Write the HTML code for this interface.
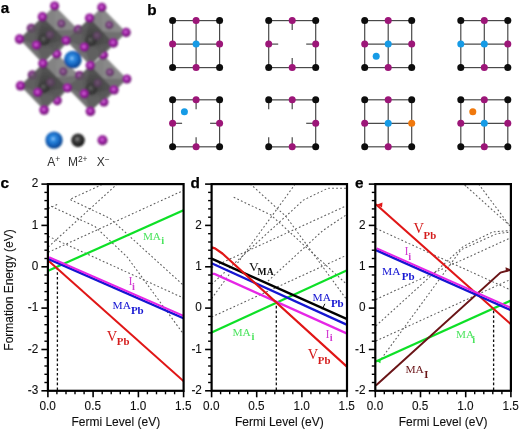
<!DOCTYPE html>
<html><head><meta charset="utf-8"><title>Figure</title>
<style>
html,body{margin:0;padding:0;background:#fff;}
body{width:520px;height:430px;overflow:hidden;}
svg{display:block;}
text{font-family:'Liberation Sans', Arial, sans-serif;}
.ser{font-family:'Liberation Serif', 'Times New Roman', serif;}
</style></head><body>
<svg width="520" height="430" viewBox="0 0 520 430">
<defs>
<radialGradient id="gP" cx="46%" cy="44%" r="60%"><stop offset="0" stop-color="#f2b4f2"/><stop offset="0.18" stop-color="#bc38c4"/><stop offset="0.6" stop-color="#8e1c94"/><stop offset="1" stop-color="#500c56"/></radialGradient>
<radialGradient id="gPb" cx="46%" cy="44%" r="60%"><stop offset="0" stop-color="#b890b8"/><stop offset="0.25" stop-color="#84488a"/><stop offset="1" stop-color="#553058"/></radialGradient>
<radialGradient id="gK" cx="45%" cy="42%" r="65%"><stop offset="0" stop-color="#c8c8c8"/><stop offset="0.15" stop-color="#555"/><stop offset="0.6" stop-color="#262626"/><stop offset="1" stop-color="#080808"/></radialGradient>
<radialGradient id="gB" cx="45%" cy="42%" r="65%"><stop offset="0" stop-color="#d0ecff"/><stop offset="0.14" stop-color="#3a98ea"/><stop offset="0.55" stop-color="#1565c0"/><stop offset="1" stop-color="#06306e"/></radialGradient>
<radialGradient id="gD"><stop offset="0" stop-color="#222" stop-opacity="0.7"/><stop offset="0.5" stop-color="#2a2a2a" stop-opacity="0.4"/><stop offset="1" stop-color="#333" stop-opacity="0"/></radialGradient>
<filter id="soft" x="-5%" y="-5%" width="110%" height="110%"><feGaussianBlur stdDeviation="0.45"/></filter>
<filter id="soft2" x="-5%" y="-5%" width="110%" height="110%"><feGaussianBlur stdDeviation="0.85"/></filter>
<clipPath id="cc"><rect x="47.9" y="184" width="135.7" height="206.8"/></clipPath>
<clipPath id="cd"><rect x="211.6" y="184" width="135.4" height="206.8"/></clipPath>
<clipPath id="ce"><rect x="375.3" y="184" width="135.6" height="206.8"/></clipPath>
</defs>
<rect width="520" height="430" fill="#fff"/>

<text x="0.8" y="12.6" font-size="15.3" font-weight="bold" fill="#000" stroke="#000" stroke-width="0.25">a</text>
<text x="147.2" y="15.3" font-size="15.3" font-weight="bold" fill="#000" stroke="#000" stroke-width="0.25">b</text>
<text x="0.5" y="187.9" font-size="15.3" font-weight="bold" fill="#000" stroke="#000" stroke-width="0.25">c</text>
<text x="190.5" y="187.9" font-size="15.3" font-weight="bold" fill="#000" stroke="#000" stroke-width="0.25">d</text>
<text x="355" y="187.9" font-size="15.3" font-weight="bold" fill="#000" stroke="#000" stroke-width="0.25">e</text>
<g filter="url(#soft2)">
<polygon points="54.6,6.1 31.3,28.3 56.7,54.0 78.2,29.7" fill="#7e7e7e" fill-opacity="0.96"/>
<polygon points="54.6,6.1 78.2,29.7 54.8,30.1" fill="#8a8a8a" fill-opacity="0.9"/>
<polygon points="78.2,29.7 56.7,54.0 54.8,30.1" fill="#6e6e6e" fill-opacity="0.9"/>
<polygon points="101.8,7.4 78.2,29.7 103.2,55.0 126.1,32.4" fill="#7e7e7e" fill-opacity="0.96"/>
<polygon points="101.8,7.4 126.1,32.4 102.2,31.2" fill="#8a8a8a" fill-opacity="0.9"/>
<polygon points="126.1,32.4 103.2,55.0 102.2,31.2" fill="#6e6e6e" fill-opacity="0.9"/>
<polygon points="56.7,54.0 32.3,75.0 57.2,100.6 79.6,75.6" fill="#7e7e7e" fill-opacity="0.96"/>
<polygon points="56.7,54.0 79.6,75.6 55.9,77.3" fill="#8a8a8a" fill-opacity="0.9"/>
<polygon points="79.6,75.6 57.2,100.6 55.9,77.3" fill="#6e6e6e" fill-opacity="0.9"/>
<polygon points="103.2,55.0 79.6,75.6 103.9,102.0 126.8,79.0" fill="#7e7e7e" fill-opacity="0.96"/>
<polygon points="103.2,55.0 126.8,79.0 103.2,78.5" fill="#8a8a8a" fill-opacity="0.9"/>
<polygon points="126.8,79.0 103.9,102.0 103.2,78.5" fill="#6e6e6e" fill-opacity="0.9"/>
<circle cx="61.4" cy="23.6" r="4.3" fill="url(#gPb)" opacity="0.95"/>
<circle cx="109.3" cy="25.0" r="4.3" fill="url(#gPb)" opacity="0.95"/>
<circle cx="63.3" cy="71.6" r="4.3" fill="url(#gPb)" opacity="0.95"/>
<circle cx="109.9" cy="72.3" r="4.3" fill="url(#gPb)" opacity="0.95"/>
<circle cx="54.6" cy="6.1" r="4.6" fill="url(#gP)" opacity="1"/>
<circle cx="31.3" cy="28.3" r="4.6" fill="url(#gP)" opacity="1"/>
<circle cx="56.7" cy="54.0" r="4.6" fill="url(#gP)" opacity="1"/>
<circle cx="78.2" cy="29.7" r="4.6" fill="url(#gP)" opacity="1"/>
<circle cx="101.8" cy="7.4" r="4.6" fill="url(#gP)" opacity="1"/>
<circle cx="78.2" cy="29.7" r="4.6" fill="url(#gP)" opacity="1"/>
<circle cx="103.2" cy="55.0" r="4.6" fill="url(#gP)" opacity="1"/>
<circle cx="126.1" cy="32.4" r="4.6" fill="url(#gP)" opacity="1"/>
<circle cx="56.7" cy="54.0" r="4.6" fill="url(#gP)" opacity="1"/>
<circle cx="32.3" cy="75.0" r="4.6" fill="url(#gP)" opacity="1"/>
<circle cx="57.2" cy="100.6" r="4.6" fill="url(#gP)" opacity="1"/>
<circle cx="79.6" cy="75.6" r="4.6" fill="url(#gP)" opacity="1"/>
<circle cx="103.2" cy="55.0" r="4.6" fill="url(#gP)" opacity="1"/>
<circle cx="79.6" cy="75.6" r="4.6" fill="url(#gP)" opacity="1"/>
<circle cx="103.9" cy="102.0" r="4.6" fill="url(#gP)" opacity="1"/>
<circle cx="126.8" cy="79.0" r="4.6" fill="url(#gP)" opacity="1"/>
<polygon points="42.5,16.9 19.6,39.1 43.0,63.5 66.1,40.5" fill="#565656" fill-opacity="0.9"/>
<polygon points="89.7,18.2 66.1,40.5 90.4,65.5 113.3,42.9" fill="#565656" fill-opacity="0.9"/>
<polygon points="43.0,63.5 20.5,85.8 44.1,110.0 67.4,87.8" fill="#565656" fill-opacity="0.9"/>
<polygon points="90.4,65.5 67.4,87.8 90.4,111.3 114.0,89.8" fill="#565656" fill-opacity="0.9"/>
<circle cx="31.3" cy="28.3" r="4.5" fill="url(#gPb)" opacity="0.75"/>
<circle cx="45.9" cy="36.8" r="13" fill="url(#gD)"/>
<circle cx="43.9" cy="39.8" r="5.8" fill="url(#gK)" opacity="1"/>
<circle cx="50.0" cy="34.8" r="4.3" fill="url(#gPb)" opacity="0.95"/>
<polygon points="42.5,16.9 19.6,39.1 36.4,45.2" fill="#5c5c5c" fill-opacity="0.5"/>
<polygon points="42.5,16.9 66.1,40.5 36.4,45.2" fill="#484848" fill-opacity="0.5"/>
<polygon points="19.6,39.1 43.0,63.5 36.4,45.2" fill="#7a7a7a" fill-opacity="0.55"/>
<polygon points="66.1,40.5 43.0,63.5 36.4,45.2" fill="#5a5a5a" fill-opacity="0.5"/>
<circle cx="78.2" cy="29.7" r="4.5" fill="url(#gPb)" opacity="0.75"/>
<circle cx="92.8" cy="37.5" r="13" fill="url(#gD)"/>
<circle cx="90.8" cy="40.5" r="5.8" fill="url(#gK)" opacity="1"/>
<circle cx="97.1" cy="35.8" r="4.3" fill="url(#gPb)" opacity="0.95"/>
<polygon points="89.7,18.2 66.1,40.5 84.3,47.2" fill="#5c5c5c" fill-opacity="0.5"/>
<polygon points="89.7,18.2 113.3,42.9 84.3,47.2" fill="#484848" fill-opacity="0.5"/>
<polygon points="66.1,40.5 90.4,65.5 84.3,47.2" fill="#7a7a7a" fill-opacity="0.55"/>
<polygon points="113.3,42.9 90.4,65.5 84.3,47.2" fill="#5a5a5a" fill-opacity="0.5"/>
<circle cx="32.3" cy="75.0" r="4.5" fill="url(#gPb)" opacity="0.75"/>
<circle cx="45.7" cy="84.5" r="13" fill="url(#gD)"/>
<circle cx="43.7" cy="87.5" r="5.8" fill="url(#gK)" opacity="1"/>
<circle cx="50.5" cy="82.4" r="4.3" fill="url(#gPb)" opacity="0.95"/>
<polygon points="43.0,63.5 20.5,85.8 37.7,92.5" fill="#5c5c5c" fill-opacity="0.5"/>
<polygon points="43.0,63.5 67.4,87.8 37.7,92.5" fill="#484848" fill-opacity="0.5"/>
<polygon points="20.5,85.8 44.1,110.0 37.7,92.5" fill="#7a7a7a" fill-opacity="0.55"/>
<polygon points="67.4,87.8 44.1,110.0 37.7,92.5" fill="#5a5a5a" fill-opacity="0.5"/>
<circle cx="79.6" cy="75.6" r="4.5" fill="url(#gPb)" opacity="0.75"/>
<circle cx="93.3" cy="86.1" r="13" fill="url(#gD)"/>
<circle cx="91.3" cy="89.1" r="5.8" fill="url(#gK)" opacity="1"/>
<circle cx="97.8" cy="83.1" r="4.3" fill="url(#gPb)" opacity="0.95"/>
<polygon points="90.4,65.5 67.4,87.8 84.3,93.9" fill="#5c5c5c" fill-opacity="0.5"/>
<polygon points="90.4,65.5 114.0,89.8 84.3,93.9" fill="#484848" fill-opacity="0.5"/>
<polygon points="67.4,87.8 90.4,111.3 84.3,93.9" fill="#7a7a7a" fill-opacity="0.55"/>
<polygon points="114.0,89.8 90.4,111.3 84.3,93.9" fill="#5a5a5a" fill-opacity="0.5"/>
<circle cx="72.8" cy="59.7" r="8.9" fill="url(#gB)" opacity="1"/>
<circle cx="42.5" cy="16.9" r="4.8" fill="url(#gP)" opacity="1"/>
<circle cx="19.6" cy="39.1" r="4.8" fill="url(#gP)" opacity="1"/>
<circle cx="43.0" cy="63.5" r="4.8" fill="url(#gP)" opacity="1"/>
<circle cx="66.1" cy="40.5" r="4.8" fill="url(#gP)" opacity="1"/>
<circle cx="36.4" cy="45.2" r="4.8" fill="url(#gP)" opacity="1"/>
<circle cx="89.7" cy="18.2" r="4.8" fill="url(#gP)" opacity="1"/>
<circle cx="90.4" cy="65.5" r="4.8" fill="url(#gP)" opacity="1"/>
<circle cx="113.3" cy="42.9" r="4.8" fill="url(#gP)" opacity="1"/>
<circle cx="84.3" cy="47.2" r="4.8" fill="url(#gP)" opacity="1"/>
<circle cx="20.5" cy="85.8" r="4.8" fill="url(#gP)" opacity="1"/>
<circle cx="44.1" cy="110.0" r="4.8" fill="url(#gP)" opacity="1"/>
<circle cx="67.4" cy="87.8" r="4.8" fill="url(#gP)" opacity="1"/>
<circle cx="37.7" cy="92.5" r="4.8" fill="url(#gP)" opacity="1"/>
<circle cx="90.4" cy="111.3" r="4.8" fill="url(#gP)" opacity="1"/>
<circle cx="114.0" cy="89.8" r="4.8" fill="url(#gP)" opacity="1"/>
<circle cx="84.3" cy="93.9" r="4.8" fill="url(#gP)" opacity="1"/>
<circle cx="54.0" cy="140.2" r="8.6" fill="url(#gB)" opacity="1"/>
<circle cx="78.0" cy="140.2" r="6.7" fill="url(#gK)" opacity="1"/>
<circle cx="102.5" cy="140.2" r="5.0" fill="url(#gP)" opacity="1"/>
</g>
<text x="47.3" y="166" font-size="12" fill="#333">A<tspan font-size="8.5" dy="-4.5">+</tspan></text>
<text x="67.9" y="166" font-size="12" fill="#333">M<tspan font-size="8.5" dy="-4.5">2+</tspan></text>
<text x="96.7" y="166" font-size="12" fill="#333">X<tspan font-size="8.5" dy="-4.5">−</tspan></text>
<g filter="url(#soft)">
<rect x="172.6" y="20.6" width="47.0" height="47.0" fill="none" stroke="#4a4a4a" stroke-width="1.2"/>
<line x1="196.1" y1="20.6" x2="196.1" y2="67.6" stroke="#4a4a4a" stroke-width="1.2"/>
<line x1="172.6" y1="44.1" x2="219.6" y2="44.1" stroke="#4a4a4a" stroke-width="1.2"/>
<circle cx="172.6" cy="20.6" r="3.5" fill="#0c0c0c"/>
<circle cx="219.6" cy="20.6" r="3.5" fill="#0c0c0c"/>
<circle cx="172.6" cy="67.6" r="3.5" fill="#0c0c0c"/>
<circle cx="219.6" cy="67.6" r="3.5" fill="#0c0c0c"/>
<circle cx="196.1" cy="20.6" r="3.5" fill="#9c1478"/>
<circle cx="196.1" cy="67.6" r="3.5" fill="#9c1478"/>
<circle cx="172.6" cy="44.1" r="3.5" fill="#9c1478"/>
<circle cx="219.6" cy="44.1" r="3.5" fill="#9c1478"/>
<circle cx="196.1" cy="44.1" r="3.5" fill="#189be6"/>
<rect x="268.7" y="20.6" width="47.0" height="47.0" fill="none" stroke="#4a4a4a" stroke-width="1.2"/>
<line x1="292.2" y1="20.6" x2="292.2" y2="30.1" stroke="#4a4a4a" stroke-width="1.2"/>
<line x1="292.2" y1="67.6" x2="292.2" y2="58.1" stroke="#4a4a4a" stroke-width="1.2"/>
<line x1="268.7" y1="44.1" x2="278.2" y2="44.1" stroke="#4a4a4a" stroke-width="1.2"/>
<line x1="315.7" y1="44.1" x2="306.2" y2="44.1" stroke="#4a4a4a" stroke-width="1.2"/>
<circle cx="268.7" cy="20.6" r="3.5" fill="#0c0c0c"/>
<circle cx="315.7" cy="20.6" r="3.5" fill="#0c0c0c"/>
<circle cx="268.7" cy="67.6" r="3.5" fill="#0c0c0c"/>
<circle cx="315.7" cy="67.6" r="3.5" fill="#0c0c0c"/>
<circle cx="292.2" cy="20.6" r="3.5" fill="#9c1478"/>
<circle cx="292.2" cy="67.6" r="3.5" fill="#9c1478"/>
<circle cx="268.7" cy="44.1" r="3.5" fill="#9c1478"/>
<circle cx="315.7" cy="44.1" r="3.5" fill="#9c1478"/>
<rect x="364.7" y="20.6" width="47.0" height="47.0" fill="none" stroke="#4a4a4a" stroke-width="1.2"/>
<line x1="388.2" y1="20.6" x2="388.2" y2="67.6" stroke="#4a4a4a" stroke-width="1.2"/>
<line x1="364.7" y1="44.1" x2="411.7" y2="44.1" stroke="#4a4a4a" stroke-width="1.2"/>
<circle cx="364.7" cy="20.6" r="3.5" fill="#0c0c0c"/>
<circle cx="411.7" cy="20.6" r="3.5" fill="#0c0c0c"/>
<circle cx="364.7" cy="67.6" r="3.5" fill="#0c0c0c"/>
<circle cx="411.7" cy="67.6" r="3.5" fill="#0c0c0c"/>
<circle cx="388.2" cy="20.6" r="3.5" fill="#9c1478"/>
<circle cx="388.2" cy="67.6" r="3.5" fill="#9c1478"/>
<circle cx="364.7" cy="44.1" r="3.5" fill="#9c1478"/>
<circle cx="411.7" cy="44.1" r="3.5" fill="#9c1478"/>
<circle cx="388.2" cy="44.1" r="3.5" fill="#189be6"/>
<circle cx="376.2" cy="56.2" r="3.5" fill="#189be6"/>
<rect x="460.8" y="20.6" width="47.0" height="47.0" fill="none" stroke="#4a4a4a" stroke-width="1.2"/>
<line x1="484.3" y1="20.6" x2="484.3" y2="67.6" stroke="#4a4a4a" stroke-width="1.2"/>
<line x1="460.8" y1="44.1" x2="507.8" y2="44.1" stroke="#4a4a4a" stroke-width="1.2"/>
<circle cx="460.8" cy="20.6" r="3.5" fill="#0c0c0c"/>
<circle cx="507.8" cy="20.6" r="3.5" fill="#0c0c0c"/>
<circle cx="460.8" cy="67.6" r="3.5" fill="#0c0c0c"/>
<circle cx="507.8" cy="67.6" r="3.5" fill="#0c0c0c"/>
<circle cx="484.3" cy="20.6" r="3.5" fill="#9c1478"/>
<circle cx="484.3" cy="67.6" r="3.5" fill="#9c1478"/>
<circle cx="460.8" cy="44.1" r="3.5" fill="#189be6"/>
<circle cx="507.8" cy="44.1" r="3.5" fill="#9c1478"/>
<circle cx="484.3" cy="44.1" r="3.5" fill="#189be6"/>
<rect x="172.6" y="99.8" width="47.0" height="47.0" fill="none" stroke="#4a4a4a" stroke-width="1.2"/>
<line x1="196.1" y1="99.8" x2="196.1" y2="109.3" stroke="#4a4a4a" stroke-width="1.2"/>
<line x1="196.1" y1="146.8" x2="196.1" y2="137.3" stroke="#4a4a4a" stroke-width="1.2"/>
<line x1="172.6" y1="123.3" x2="182.1" y2="123.3" stroke="#4a4a4a" stroke-width="1.2"/>
<line x1="219.6" y1="123.3" x2="210.1" y2="123.3" stroke="#4a4a4a" stroke-width="1.2"/>
<circle cx="172.6" cy="99.8" r="3.5" fill="#0c0c0c"/>
<circle cx="219.6" cy="99.8" r="3.5" fill="#0c0c0c"/>
<circle cx="172.6" cy="146.8" r="3.5" fill="#0c0c0c"/>
<circle cx="219.6" cy="146.8" r="3.5" fill="#0c0c0c"/>
<circle cx="196.1" cy="99.8" r="3.5" fill="#9c1478"/>
<circle cx="196.1" cy="146.8" r="3.5" fill="#9c1478"/>
<circle cx="172.6" cy="123.3" r="3.5" fill="#9c1478"/>
<circle cx="219.6" cy="123.3" r="3.5" fill="#9c1478"/>
<circle cx="184.4" cy="111.7" r="3.5" fill="#189be6"/>
<line x1="268.7" y1="99.8" x2="315.7" y2="99.8" stroke="#4a4a4a" stroke-width="1.2"/>
<line x1="315.7" y1="99.8" x2="315.7" y2="146.8" stroke="#4a4a4a" stroke-width="1.2"/>
<line x1="268.7" y1="146.8" x2="315.7" y2="146.8" stroke="#4a4a4a" stroke-width="1.2"/>
<line x1="268.7" y1="99.8" x2="268.7" y2="109.3" stroke="#4a4a4a" stroke-width="1.2"/>
<line x1="268.7" y1="146.8" x2="268.7" y2="137.3" stroke="#4a4a4a" stroke-width="1.2"/>
<line x1="292.2" y1="99.8" x2="292.2" y2="109.3" stroke="#4a4a4a" stroke-width="1.2"/>
<line x1="292.2" y1="146.8" x2="292.2" y2="137.3" stroke="#4a4a4a" stroke-width="1.2"/>
<line x1="315.7" y1="123.3" x2="306.2" y2="123.3" stroke="#4a4a4a" stroke-width="1.2"/>
<circle cx="268.7" cy="99.8" r="3.5" fill="#0c0c0c"/>
<circle cx="315.7" cy="99.8" r="3.5" fill="#0c0c0c"/>
<circle cx="268.7" cy="146.8" r="3.5" fill="#0c0c0c"/>
<circle cx="315.7" cy="146.8" r="3.5" fill="#0c0c0c"/>
<circle cx="292.2" cy="99.8" r="3.5" fill="#9c1478"/>
<circle cx="292.2" cy="146.8" r="3.5" fill="#9c1478"/>
<circle cx="315.7" cy="123.3" r="3.5" fill="#9c1478"/>
<rect x="364.7" y="99.8" width="47.0" height="47.0" fill="none" stroke="#4a4a4a" stroke-width="1.2"/>
<line x1="388.2" y1="99.8" x2="388.2" y2="146.8" stroke="#4a4a4a" stroke-width="1.2"/>
<line x1="364.7" y1="123.3" x2="411.7" y2="123.3" stroke="#4a4a4a" stroke-width="1.2"/>
<circle cx="364.7" cy="99.8" r="3.5" fill="#0c0c0c"/>
<circle cx="411.7" cy="99.8" r="3.5" fill="#0c0c0c"/>
<circle cx="364.7" cy="146.8" r="3.5" fill="#0c0c0c"/>
<circle cx="411.7" cy="146.8" r="3.5" fill="#0c0c0c"/>
<circle cx="388.2" cy="99.8" r="3.5" fill="#9c1478"/>
<circle cx="388.2" cy="146.8" r="3.5" fill="#9c1478"/>
<circle cx="364.7" cy="123.3" r="3.5" fill="#9c1478"/>
<circle cx="411.7" cy="123.3" r="3.5" fill="#f0780a"/>
<circle cx="388.2" cy="123.3" r="3.5" fill="#189be6"/>
<rect x="460.8" y="99.8" width="47.0" height="47.0" fill="none" stroke="#4a4a4a" stroke-width="1.2"/>
<line x1="484.3" y1="99.8" x2="484.3" y2="146.8" stroke="#4a4a4a" stroke-width="1.2"/>
<line x1="460.8" y1="123.3" x2="507.8" y2="123.3" stroke="#4a4a4a" stroke-width="1.2"/>
<circle cx="460.8" cy="99.8" r="3.5" fill="#0c0c0c"/>
<circle cx="507.8" cy="99.8" r="3.5" fill="#0c0c0c"/>
<circle cx="460.8" cy="146.8" r="3.5" fill="#0c0c0c"/>
<circle cx="507.8" cy="146.8" r="3.5" fill="#0c0c0c"/>
<circle cx="484.3" cy="99.8" r="3.5" fill="#9c1478"/>
<circle cx="484.3" cy="146.8" r="3.5" fill="#9c1478"/>
<circle cx="460.8" cy="123.3" r="3.5" fill="#9c1478"/>
<circle cx="507.8" cy="123.3" r="3.5" fill="#9c1478"/>
<circle cx="484.3" cy="123.3" r="3.5" fill="#189be6"/>
<circle cx="472.8" cy="111.8" r="3.5" fill="#f0780a"/>
</g>
<g filter="url(#soft)">
<polyline points="48.2,208.5 59.0,203.7" fill="none" stroke="#5e5e5e" stroke-width="1.05" stroke-dasharray="1.8 2.2" clip-path="url(#cc)" />
<polyline points="51.2,206.3 95.0,226.5 127.2,257.0 184.0,334.8" fill="none" stroke="#5e5e5e" stroke-width="1.05" stroke-dasharray="1.8 2.2" clip-path="url(#cc)" />
<polyline points="102.0,184.6 69.8,199.4 110.0,218.4 184.0,285.8" fill="none" stroke="#5e5e5e" stroke-width="1.05" stroke-dasharray="1.8 2.2" clip-path="url(#cc)" />
<polyline points="48.2,247.0 117.2,184.0" fill="none" stroke="#5e5e5e" stroke-width="1.05" stroke-dasharray="1.8 2.2" clip-path="url(#cc)" />
<polyline points="48.2,252.3 184.0,190.2" fill="none" stroke="#5e5e5e" stroke-width="1.05" stroke-dasharray="1.8 2.2" clip-path="url(#cc)" />
<polyline points="48.2,236.2 184.0,298.3" fill="none" stroke="#5e5e5e" stroke-width="1.05" stroke-dasharray="1.8 2.2" clip-path="url(#cc)" />
<polyline points="57.4,390.0 57.4,268.0" fill="none" stroke="#111" stroke-width="1.3" stroke-dasharray="2.6 2.2" />
<polyline points="48.2,270.7 184.0,210.0" fill="none" stroke="#10e028" stroke-width="2.2" clip-path="url(#cc)" />
<polyline points="48.2,260.4 184.0,381.5" fill="none" stroke="#e01414" stroke-width="2.0" clip-path="url(#cc)" />
<polyline points="48.2,258.8 184.0,318.5" fill="none" stroke="#1414d2" stroke-width="2.4" clip-path="url(#cc)" />
<polyline points="49.6,257.5 184.0,316.0" fill="none" stroke="#e628e6" stroke-width="2.0" clip-path="url(#cc)" stroke-linecap="round"/>
<rect x="47.9" y="184.1" width="135.7" height="206.7" fill="none" stroke="#000" stroke-width="2.2"/>
<line x1="41.4" y1="390.8" x2="47.9" y2="390.8" stroke="#000" stroke-width="1.6"/>
<text transform="translate(38.2,394.1) scale(0.9,1)" font-size="13.1" text-anchor="end" fill="#111" stroke="#111" stroke-width="0.12">-3</text>
<line x1="44.4" y1="382.5" x2="47.9" y2="382.5" stroke="#000" stroke-width="1.4"/>
<line x1="44.4" y1="374.3" x2="47.9" y2="374.3" stroke="#000" stroke-width="1.4"/>
<line x1="44.4" y1="366.0" x2="47.9" y2="366.0" stroke="#000" stroke-width="1.4"/>
<line x1="44.4" y1="357.7" x2="47.9" y2="357.7" stroke="#000" stroke-width="1.4"/>
<line x1="41.4" y1="349.5" x2="47.9" y2="349.5" stroke="#000" stroke-width="1.6"/>
<text transform="translate(38.2,352.8) scale(0.9,1)" font-size="13.1" text-anchor="end" fill="#111" stroke="#111" stroke-width="0.12">-2</text>
<line x1="44.4" y1="341.2" x2="47.9" y2="341.2" stroke="#000" stroke-width="1.4"/>
<line x1="44.4" y1="332.9" x2="47.9" y2="332.9" stroke="#000" stroke-width="1.4"/>
<line x1="44.4" y1="324.7" x2="47.9" y2="324.7" stroke="#000" stroke-width="1.4"/>
<line x1="44.4" y1="316.4" x2="47.9" y2="316.4" stroke="#000" stroke-width="1.4"/>
<line x1="41.4" y1="308.1" x2="47.9" y2="308.1" stroke="#000" stroke-width="1.6"/>
<text transform="translate(38.2,311.4) scale(0.9,1)" font-size="13.1" text-anchor="end" fill="#111" stroke="#111" stroke-width="0.12">-1</text>
<line x1="44.4" y1="299.9" x2="47.9" y2="299.9" stroke="#000" stroke-width="1.4"/>
<line x1="44.4" y1="291.6" x2="47.9" y2="291.6" stroke="#000" stroke-width="1.4"/>
<line x1="44.4" y1="283.3" x2="47.9" y2="283.3" stroke="#000" stroke-width="1.4"/>
<line x1="44.4" y1="275.0" x2="47.9" y2="275.0" stroke="#000" stroke-width="1.4"/>
<line x1="41.4" y1="266.8" x2="47.9" y2="266.8" stroke="#000" stroke-width="1.6"/>
<text transform="translate(38.2,270.1) scale(0.9,1)" font-size="13.1" text-anchor="end" fill="#111" stroke="#111" stroke-width="0.12">0</text>
<line x1="44.4" y1="258.5" x2="47.9" y2="258.5" stroke="#000" stroke-width="1.4"/>
<line x1="44.4" y1="250.2" x2="47.9" y2="250.2" stroke="#000" stroke-width="1.4"/>
<line x1="44.4" y1="242.0" x2="47.9" y2="242.0" stroke="#000" stroke-width="1.4"/>
<line x1="44.4" y1="233.7" x2="47.9" y2="233.7" stroke="#000" stroke-width="1.4"/>
<line x1="41.4" y1="225.4" x2="47.9" y2="225.4" stroke="#000" stroke-width="1.6"/>
<text transform="translate(38.2,228.7) scale(0.9,1)" font-size="13.1" text-anchor="end" fill="#111" stroke="#111" stroke-width="0.12">1</text>
<line x1="44.4" y1="217.2" x2="47.9" y2="217.2" stroke="#000" stroke-width="1.4"/>
<line x1="44.4" y1="208.9" x2="47.9" y2="208.9" stroke="#000" stroke-width="1.4"/>
<line x1="44.4" y1="200.6" x2="47.9" y2="200.6" stroke="#000" stroke-width="1.4"/>
<line x1="44.4" y1="192.4" x2="47.9" y2="192.4" stroke="#000" stroke-width="1.4"/>
<line x1="41.4" y1="184.1" x2="47.9" y2="184.1" stroke="#000" stroke-width="1.6"/>
<text transform="translate(38.2,187.4) scale(0.9,1)" font-size="13.1" text-anchor="end" fill="#111" stroke="#111" stroke-width="0.12">2</text>
<line x1="47.9" y1="390.8" x2="47.9" y2="397.3" stroke="#000" stroke-width="1.6"/>
<text transform="translate(47.6,409.9) scale(0.9,1)" font-size="13.1" text-anchor="middle" fill="#111" stroke="#111" stroke-width="0.12">0.0</text>
<line x1="56.9" y1="390.8" x2="56.9" y2="394.3" stroke="#000" stroke-width="1.4"/>
<line x1="66.0" y1="390.8" x2="66.0" y2="394.3" stroke="#000" stroke-width="1.4"/>
<line x1="75.0" y1="390.8" x2="75.0" y2="394.3" stroke="#000" stroke-width="1.4"/>
<line x1="84.1" y1="390.8" x2="84.1" y2="394.3" stroke="#000" stroke-width="1.4"/>
<line x1="93.1" y1="390.8" x2="93.1" y2="397.3" stroke="#000" stroke-width="1.6"/>
<text transform="translate(92.8,409.9) scale(0.9,1)" font-size="13.1" text-anchor="middle" fill="#111" stroke="#111" stroke-width="0.12">0.5</text>
<line x1="102.2" y1="390.8" x2="102.2" y2="394.3" stroke="#000" stroke-width="1.4"/>
<line x1="111.2" y1="390.8" x2="111.2" y2="394.3" stroke="#000" stroke-width="1.4"/>
<line x1="120.3" y1="390.8" x2="120.3" y2="394.3" stroke="#000" stroke-width="1.4"/>
<line x1="129.3" y1="390.8" x2="129.3" y2="394.3" stroke="#000" stroke-width="1.4"/>
<line x1="138.4" y1="390.8" x2="138.4" y2="397.3" stroke="#000" stroke-width="1.6"/>
<text transform="translate(138.1,409.9) scale(0.9,1)" font-size="13.1" text-anchor="middle" fill="#111" stroke="#111" stroke-width="0.12">1.0</text>
<line x1="147.4" y1="390.8" x2="147.4" y2="394.3" stroke="#000" stroke-width="1.4"/>
<line x1="156.5" y1="390.8" x2="156.5" y2="394.3" stroke="#000" stroke-width="1.4"/>
<line x1="165.5" y1="390.8" x2="165.5" y2="394.3" stroke="#000" stroke-width="1.4"/>
<line x1="174.6" y1="390.8" x2="174.6" y2="394.3" stroke="#000" stroke-width="1.4"/>
<line x1="183.6" y1="390.8" x2="183.6" y2="397.3" stroke="#000" stroke-width="1.6"/>
<text transform="translate(183.3,409.9) scale(0.9,1)" font-size="13.1" text-anchor="middle" fill="#111" stroke="#111" stroke-width="0.12">1.5</text>
<text x="115.8" y="425.8" font-size="12" text-anchor="middle" fill="#111" stroke="#111" stroke-width="0.12">Fermi Level (eV)</text>
<text transform="translate(12.9,290) rotate(-90)" font-size="12" text-anchor="middle" fill="#111" stroke="#111" stroke-width="0.12">Formation Energy (eV)</text>
<polyline points="233.7,197.3 271.0,215.0 347.2,284.7" fill="none" stroke="#5e5e5e" stroke-width="1.05" stroke-dasharray="1.8 2.2" clip-path="url(#cd)" />
<polyline points="250.0,184.0 252.8,186.2 286.0,216.5 347.2,300.3" fill="none" stroke="#5e5e5e" stroke-width="1.05" stroke-dasharray="1.8 2.2" clip-path="url(#cd)" />
<polyline points="211.6,298.6 296.0,183.0" fill="none" stroke="#5e5e5e" stroke-width="1.05" stroke-dasharray="1.8 2.2" clip-path="url(#cd)" />
<polyline points="211.6,284.3 303.4,200.1 327.8,188.3 347.2,188.3" fill="none" stroke="#5e5e5e" stroke-width="1.05" stroke-dasharray="1.8 2.2" clip-path="url(#cd)" />
<polyline points="211.6,267.4 347.2,205.4" fill="none" stroke="#5e5e5e" stroke-width="1.05" stroke-dasharray="1.8 2.2" clip-path="url(#cd)" />
<polyline points="268.0,281.0 322.9,230.5 347.2,214.2" fill="none" stroke="#5e5e5e" stroke-width="1.05" stroke-dasharray="1.8 2.2" clip-path="url(#cd)" />
<polyline points="211.6,317.0 347.2,255.0" fill="none" stroke="#5e5e5e" stroke-width="1.05" stroke-dasharray="1.8 2.2" clip-path="url(#cd)" />
<polyline points="276.3,390.0 276.3,303.0" fill="none" stroke="#111" stroke-width="1.3" stroke-dasharray="2.6 2.2" />
<polyline points="211.6,332.5 347.2,270.2" fill="none" stroke="#10e028" stroke-width="2.3" clip-path="url(#cd)" />
<polyline points="211.6,273.9 214.5,273.9 347.2,333.6" fill="none" stroke="#e628e6" stroke-width="2.3" clip-path="url(#cd)" />
<polyline points="211.6,263.2 347.2,324.9" fill="none" stroke="#1414d2" stroke-width="2.3" clip-path="url(#cd)" />
<polyline points="211.6,258.6 347.2,319.2" fill="none" stroke="#000" stroke-width="2.3" clip-path="url(#cd)" />
<polyline points="211.6,247.4 215.0,248.4 222.4,253.5 347.2,367.0" fill="none" stroke="#e01414" stroke-width="2.2" clip-path="url(#cd)" stroke-linejoin="round"/>
<polyline points="324.9,303.8 322.2,309.3" fill="none" stroke="#000" stroke-width="0.9" />
<rect x="211.6" y="184.1" width="135.4" height="206.7" fill="none" stroke="#000" stroke-width="2.2"/>
<line x1="205.1" y1="390.8" x2="211.6" y2="390.8" stroke="#000" stroke-width="1.6"/>
<text transform="translate(201.9,394.1) scale(0.9,1)" font-size="13.1" text-anchor="end" fill="#111" stroke="#111" stroke-width="0.12">-2</text>
<line x1="208.1" y1="382.5" x2="211.6" y2="382.5" stroke="#000" stroke-width="1.4"/>
<line x1="208.1" y1="374.3" x2="211.6" y2="374.3" stroke="#000" stroke-width="1.4"/>
<line x1="208.1" y1="366.0" x2="211.6" y2="366.0" stroke="#000" stroke-width="1.4"/>
<line x1="208.1" y1="357.7" x2="211.6" y2="357.7" stroke="#000" stroke-width="1.4"/>
<line x1="205.1" y1="349.5" x2="211.6" y2="349.5" stroke="#000" stroke-width="1.6"/>
<text transform="translate(201.9,352.8) scale(0.9,1)" font-size="13.1" text-anchor="end" fill="#111" stroke="#111" stroke-width="0.12">-1</text>
<line x1="208.1" y1="341.2" x2="211.6" y2="341.2" stroke="#000" stroke-width="1.4"/>
<line x1="208.1" y1="332.9" x2="211.6" y2="332.9" stroke="#000" stroke-width="1.4"/>
<line x1="208.1" y1="324.7" x2="211.6" y2="324.7" stroke="#000" stroke-width="1.4"/>
<line x1="208.1" y1="316.4" x2="211.6" y2="316.4" stroke="#000" stroke-width="1.4"/>
<line x1="205.1" y1="308.1" x2="211.6" y2="308.1" stroke="#000" stroke-width="1.6"/>
<text transform="translate(201.9,311.4) scale(0.9,1)" font-size="13.1" text-anchor="end" fill="#111" stroke="#111" stroke-width="0.12">0</text>
<line x1="208.1" y1="299.9" x2="211.6" y2="299.9" stroke="#000" stroke-width="1.4"/>
<line x1="208.1" y1="291.6" x2="211.6" y2="291.6" stroke="#000" stroke-width="1.4"/>
<line x1="208.1" y1="283.3" x2="211.6" y2="283.3" stroke="#000" stroke-width="1.4"/>
<line x1="208.1" y1="275.0" x2="211.6" y2="275.0" stroke="#000" stroke-width="1.4"/>
<line x1="205.1" y1="266.8" x2="211.6" y2="266.8" stroke="#000" stroke-width="1.6"/>
<text transform="translate(201.9,270.1) scale(0.9,1)" font-size="13.1" text-anchor="end" fill="#111" stroke="#111" stroke-width="0.12">1</text>
<line x1="208.1" y1="258.5" x2="211.6" y2="258.5" stroke="#000" stroke-width="1.4"/>
<line x1="208.1" y1="250.2" x2="211.6" y2="250.2" stroke="#000" stroke-width="1.4"/>
<line x1="208.1" y1="242.0" x2="211.6" y2="242.0" stroke="#000" stroke-width="1.4"/>
<line x1="208.1" y1="233.7" x2="211.6" y2="233.7" stroke="#000" stroke-width="1.4"/>
<line x1="205.1" y1="225.4" x2="211.6" y2="225.4" stroke="#000" stroke-width="1.6"/>
<text transform="translate(201.9,228.7) scale(0.9,1)" font-size="13.1" text-anchor="end" fill="#111" stroke="#111" stroke-width="0.12">2</text>
<line x1="208.1" y1="217.2" x2="211.6" y2="217.2" stroke="#000" stroke-width="1.4"/>
<line x1="208.1" y1="208.9" x2="211.6" y2="208.9" stroke="#000" stroke-width="1.4"/>
<line x1="208.1" y1="200.6" x2="211.6" y2="200.6" stroke="#000" stroke-width="1.4"/>
<line x1="208.1" y1="192.4" x2="211.6" y2="192.4" stroke="#000" stroke-width="1.4"/>
<line x1="205.1" y1="184.1" x2="211.6" y2="184.1" stroke="#000" stroke-width="1.6"/>
<line x1="211.6" y1="390.8" x2="211.6" y2="397.3" stroke="#000" stroke-width="1.6"/>
<text transform="translate(211.3,409.9) scale(0.9,1)" font-size="13.1" text-anchor="middle" fill="#111" stroke="#111" stroke-width="0.12">0.0</text>
<line x1="220.6" y1="390.8" x2="220.6" y2="394.3" stroke="#000" stroke-width="1.4"/>
<line x1="229.7" y1="390.8" x2="229.7" y2="394.3" stroke="#000" stroke-width="1.4"/>
<line x1="238.7" y1="390.8" x2="238.7" y2="394.3" stroke="#000" stroke-width="1.4"/>
<line x1="247.7" y1="390.8" x2="247.7" y2="394.3" stroke="#000" stroke-width="1.4"/>
<line x1="256.7" y1="390.8" x2="256.7" y2="397.3" stroke="#000" stroke-width="1.6"/>
<text transform="translate(256.4,409.9) scale(0.9,1)" font-size="13.1" text-anchor="middle" fill="#111" stroke="#111" stroke-width="0.12">0.5</text>
<line x1="265.8" y1="390.8" x2="265.8" y2="394.3" stroke="#000" stroke-width="1.4"/>
<line x1="274.8" y1="390.8" x2="274.8" y2="394.3" stroke="#000" stroke-width="1.4"/>
<line x1="283.8" y1="390.8" x2="283.8" y2="394.3" stroke="#000" stroke-width="1.4"/>
<line x1="292.8" y1="390.8" x2="292.8" y2="394.3" stroke="#000" stroke-width="1.4"/>
<line x1="301.9" y1="390.8" x2="301.9" y2="397.3" stroke="#000" stroke-width="1.6"/>
<text transform="translate(301.6,409.9) scale(0.9,1)" font-size="13.1" text-anchor="middle" fill="#111" stroke="#111" stroke-width="0.12">1.0</text>
<line x1="310.9" y1="390.8" x2="310.9" y2="394.3" stroke="#000" stroke-width="1.4"/>
<line x1="319.9" y1="390.8" x2="319.9" y2="394.3" stroke="#000" stroke-width="1.4"/>
<line x1="328.9" y1="390.8" x2="328.9" y2="394.3" stroke="#000" stroke-width="1.4"/>
<line x1="338.0" y1="390.8" x2="338.0" y2="394.3" stroke="#000" stroke-width="1.4"/>
<line x1="347.0" y1="390.8" x2="347.0" y2="397.3" stroke="#000" stroke-width="1.6"/>
<text transform="translate(346.7,409.9) scale(0.9,1)" font-size="13.1" text-anchor="middle" fill="#111" stroke="#111" stroke-width="0.12">1.5</text>
<text x="279.3" y="425.8" font-size="12" text-anchor="middle" fill="#111" stroke="#111" stroke-width="0.12">Fermi Level (eV)</text>
<polyline points="466.2,186.3 463.7,184.0 466.2,186.3 511.5,227.2" fill="none" stroke="#5e5e5e" stroke-width="1.05" stroke-dasharray="1.8 2.2" clip-path="url(#ce)" />
<polyline points="478.6,184.0 509.4,225.3" fill="none" stroke="#5e5e5e" stroke-width="1.05" stroke-dasharray="1.8 2.2" clip-path="url(#ce)" />
<polyline points="375.9,228.4 511.5,290.4" fill="none" stroke="#5e5e5e" stroke-width="1.05" stroke-dasharray="1.8 2.2" clip-path="url(#ce)" />
<polyline points="375.9,299.4 511.5,237.4" fill="none" stroke="#5e5e5e" stroke-width="1.05" stroke-dasharray="1.8 2.2" clip-path="url(#ce)" />
<polyline points="375.9,325.9 463.4,246.4 492.7,231.9 511.5,230.4" fill="none" stroke="#5e5e5e" stroke-width="1.05" stroke-dasharray="1.8 2.2" clip-path="url(#ce)" />
<polyline points="375.9,341.0 511.5,279.0" fill="none" stroke="#5e5e5e" stroke-width="1.05" stroke-dasharray="1.8 2.2" clip-path="url(#ce)" />
<polyline points="379.0,362.0 461.0,249.8 497.0,233.6 511.5,232.0" fill="none" stroke="#5e5e5e" stroke-width="1.05" stroke-dasharray="1.8 2.2" clip-path="url(#ce)" />
<polyline points="493.6,390.0 493.6,309.0" fill="none" stroke="#111" stroke-width="1.3" stroke-dasharray="2.6 2.2" />
<polyline points="375.9,361.5 511.5,300.3" fill="none" stroke="#10e028" stroke-width="2.3" clip-path="url(#ce)" />
<polyline points="375.9,385.5 500.5,272.6 511.5,269.6" fill="none" stroke="#6a1418" stroke-width="2.0" clip-path="url(#ce)" />
<polyline points="375.9,204.2 511.5,324.8" fill="none" stroke="#e01414" stroke-width="2.1" clip-path="url(#ce)" />
<polyline points="375.9,250.2 511.5,310.5" fill="none" stroke="#1414d2" stroke-width="2.4" clip-path="url(#ce)" />
<polyline points="377.4,248.6 511.5,308.1" fill="none" stroke="#e628e6" stroke-width="2.0" clip-path="url(#ce)" stroke-linecap="round"/>
<polygon points="377.2,204.6 382.5,202.6 382.0,207.6" fill="#e01414"/>
<polygon points="377,361.3 380.5,359.2 380.5,363.2" fill="#10e028"/>
<polygon points="511,269.4 505.5,267.3 506,272.3" fill="#6a1418"/>
<rect x="375.3" y="184.1" width="135.6" height="206.7" fill="none" stroke="#000" stroke-width="2.2"/>
<line x1="368.8" y1="390.8" x2="375.3" y2="390.8" stroke="#000" stroke-width="1.6"/>
<text transform="translate(365.6,394.1) scale(0.9,1)" font-size="13.1" text-anchor="end" fill="#111" stroke="#111" stroke-width="0.12">-2</text>
<line x1="371.8" y1="382.5" x2="375.3" y2="382.5" stroke="#000" stroke-width="1.4"/>
<line x1="371.8" y1="374.3" x2="375.3" y2="374.3" stroke="#000" stroke-width="1.4"/>
<line x1="371.8" y1="366.0" x2="375.3" y2="366.0" stroke="#000" stroke-width="1.4"/>
<line x1="371.8" y1="357.7" x2="375.3" y2="357.7" stroke="#000" stroke-width="1.4"/>
<line x1="368.8" y1="349.5" x2="375.3" y2="349.5" stroke="#000" stroke-width="1.6"/>
<text transform="translate(365.6,352.8) scale(0.9,1)" font-size="13.1" text-anchor="end" fill="#111" stroke="#111" stroke-width="0.12">-1</text>
<line x1="371.8" y1="341.2" x2="375.3" y2="341.2" stroke="#000" stroke-width="1.4"/>
<line x1="371.8" y1="332.9" x2="375.3" y2="332.9" stroke="#000" stroke-width="1.4"/>
<line x1="371.8" y1="324.7" x2="375.3" y2="324.7" stroke="#000" stroke-width="1.4"/>
<line x1="371.8" y1="316.4" x2="375.3" y2="316.4" stroke="#000" stroke-width="1.4"/>
<line x1="368.8" y1="308.1" x2="375.3" y2="308.1" stroke="#000" stroke-width="1.6"/>
<text transform="translate(365.6,311.4) scale(0.9,1)" font-size="13.1" text-anchor="end" fill="#111" stroke="#111" stroke-width="0.12">0</text>
<line x1="371.8" y1="299.9" x2="375.3" y2="299.9" stroke="#000" stroke-width="1.4"/>
<line x1="371.8" y1="291.6" x2="375.3" y2="291.6" stroke="#000" stroke-width="1.4"/>
<line x1="371.8" y1="283.3" x2="375.3" y2="283.3" stroke="#000" stroke-width="1.4"/>
<line x1="371.8" y1="275.0" x2="375.3" y2="275.0" stroke="#000" stroke-width="1.4"/>
<line x1="368.8" y1="266.8" x2="375.3" y2="266.8" stroke="#000" stroke-width="1.6"/>
<text transform="translate(365.6,270.1) scale(0.9,1)" font-size="13.1" text-anchor="end" fill="#111" stroke="#111" stroke-width="0.12">1</text>
<line x1="371.8" y1="258.5" x2="375.3" y2="258.5" stroke="#000" stroke-width="1.4"/>
<line x1="371.8" y1="250.2" x2="375.3" y2="250.2" stroke="#000" stroke-width="1.4"/>
<line x1="371.8" y1="242.0" x2="375.3" y2="242.0" stroke="#000" stroke-width="1.4"/>
<line x1="371.8" y1="233.7" x2="375.3" y2="233.7" stroke="#000" stroke-width="1.4"/>
<line x1="368.8" y1="225.4" x2="375.3" y2="225.4" stroke="#000" stroke-width="1.6"/>
<text transform="translate(365.6,228.7) scale(0.9,1)" font-size="13.1" text-anchor="end" fill="#111" stroke="#111" stroke-width="0.12">2</text>
<line x1="371.8" y1="217.2" x2="375.3" y2="217.2" stroke="#000" stroke-width="1.4"/>
<line x1="371.8" y1="208.9" x2="375.3" y2="208.9" stroke="#000" stroke-width="1.4"/>
<line x1="371.8" y1="200.6" x2="375.3" y2="200.6" stroke="#000" stroke-width="1.4"/>
<line x1="371.8" y1="192.4" x2="375.3" y2="192.4" stroke="#000" stroke-width="1.4"/>
<line x1="368.8" y1="184.1" x2="375.3" y2="184.1" stroke="#000" stroke-width="1.6"/>
<line x1="375.3" y1="390.8" x2="375.3" y2="397.3" stroke="#000" stroke-width="1.6"/>
<text transform="translate(375.0,409.9) scale(0.9,1)" font-size="13.1" text-anchor="middle" fill="#111" stroke="#111" stroke-width="0.12">0.0</text>
<line x1="384.3" y1="390.8" x2="384.3" y2="394.3" stroke="#000" stroke-width="1.4"/>
<line x1="393.4" y1="390.8" x2="393.4" y2="394.3" stroke="#000" stroke-width="1.4"/>
<line x1="402.4" y1="390.8" x2="402.4" y2="394.3" stroke="#000" stroke-width="1.4"/>
<line x1="411.5" y1="390.8" x2="411.5" y2="394.3" stroke="#000" stroke-width="1.4"/>
<line x1="420.5" y1="390.8" x2="420.5" y2="397.3" stroke="#000" stroke-width="1.6"/>
<text transform="translate(420.2,409.9) scale(0.9,1)" font-size="13.1" text-anchor="middle" fill="#111" stroke="#111" stroke-width="0.12">0.5</text>
<line x1="429.5" y1="390.8" x2="429.5" y2="394.3" stroke="#000" stroke-width="1.4"/>
<line x1="438.6" y1="390.8" x2="438.6" y2="394.3" stroke="#000" stroke-width="1.4"/>
<line x1="447.6" y1="390.8" x2="447.6" y2="394.3" stroke="#000" stroke-width="1.4"/>
<line x1="456.7" y1="390.8" x2="456.7" y2="394.3" stroke="#000" stroke-width="1.4"/>
<line x1="465.7" y1="390.8" x2="465.7" y2="397.3" stroke="#000" stroke-width="1.6"/>
<text transform="translate(465.4,409.9) scale(0.9,1)" font-size="13.1" text-anchor="middle" fill="#111" stroke="#111" stroke-width="0.12">1.0</text>
<line x1="474.7" y1="390.8" x2="474.7" y2="394.3" stroke="#000" stroke-width="1.4"/>
<line x1="483.8" y1="390.8" x2="483.8" y2="394.3" stroke="#000" stroke-width="1.4"/>
<line x1="492.8" y1="390.8" x2="492.8" y2="394.3" stroke="#000" stroke-width="1.4"/>
<line x1="501.9" y1="390.8" x2="501.9" y2="394.3" stroke="#000" stroke-width="1.4"/>
<line x1="510.9" y1="390.8" x2="510.9" y2="397.3" stroke="#000" stroke-width="1.6"/>
<text transform="translate(510.6,409.9) scale(0.9,1)" font-size="13.1" text-anchor="middle" fill="#111" stroke="#111" stroke-width="0.12">1.5</text>
<text x="443.1" y="425.8" font-size="12" text-anchor="middle" fill="#111" stroke="#111" stroke-width="0.12">Fermi Level (eV)</text>
</g>
<g filter="url(#soft)">
<text class="ser" x="142.9" y="239.8" font-size="11.2" fill="#4ce45e">MA</text>
<text class="ser" x="161.3" y="244.3" font-size="10.5" font-weight="bold" fill="#4ce45e">i</text>
<text class="ser" x="128.6" y="284.6" font-size="12.2" fill="#d23cd2">I</text>
<text class="ser" x="131.9" y="289.6" font-size="10.5" font-weight="bold" fill="#d23cd2">i</text>
<text class="ser" x="112.5" y="309.1" font-size="11.4" fill="#1414d2">MA</text>
<text class="ser" x="130.9" y="313.8" font-size="11" font-weight="bold" fill="#1414d2">Pb</text>
<text class="ser" x="106.8" y="340.8" font-size="14.5" fill="#d41a1a">V</text>
<text class="ser" x="116.8" y="345.4" font-size="10.8" font-weight="bold" fill="#d41a1a">Pb</text>
<text class="ser" x="249" y="270.8" font-size="13.5" fill="#111">V</text>
<text class="ser" x="257.6" y="275.3" font-size="9.6" font-weight="bold" fill="#111">MA</text>
<text class="ser" x="312.5" y="301.1" font-size="11.4" fill="#1414d2">MA</text>
<text class="ser" x="330.9" y="307" font-size="11" font-weight="bold" fill="#1414d2">Pb</text>
<text class="ser" x="232.4" y="336.4" font-size="11.4" fill="#4ce45e">MA</text>
<text class="ser" x="251.4" y="340.3" font-size="10.5" font-weight="bold" fill="#4ce45e">i</text>
<text class="ser" x="325.5" y="338.1" font-size="12.2" fill="#d23cd2">I</text>
<text class="ser" x="329.8" y="341" font-size="10.5" font-weight="bold" fill="#d23cd2">i</text>
<text class="ser" x="307.8" y="358.5" font-size="14.5" fill="#d41a1a">V</text>
<text class="ser" x="317.8" y="363.9" font-size="10.8" font-weight="bold" fill="#d41a1a">Pb</text>
<text class="ser" x="413.5" y="233.2" font-size="14.5" fill="#d41a1a">V</text>
<text class="ser" x="423.6" y="238.8" font-size="10.8" font-weight="bold" fill="#d41a1a">Pb</text>
<text class="ser" x="404.5" y="255" font-size="12.2" fill="#d23cd2">I</text>
<text class="ser" x="408.3" y="259.8" font-size="10.5" font-weight="bold" fill="#d23cd2">i</text>
<text class="ser" x="382.1" y="275.1" font-size="11.4" fill="#1414d2">MA</text>
<text class="ser" x="401.8" y="280.1" font-size="11" font-weight="bold" fill="#1414d2">Pb</text>
<text class="ser" x="456" y="338" font-size="11.2" fill="#4ce45e">MA</text>
<text class="ser" x="472.2" y="342.8" font-size="10.5" font-weight="bold" fill="#4ce45e">i</text>
<text class="ser" x="405.4" y="373.1" font-size="11.4" fill="#6a1418">MA</text>
<text class="ser" x="424.2" y="378.4" font-size="10.5" font-weight="bold" fill="#6a1418">I</text>
</g>
</svg></body></html>
